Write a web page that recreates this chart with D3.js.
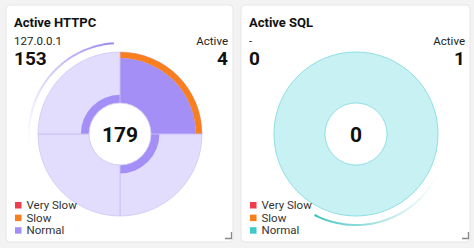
<!DOCTYPE html>
<html><head><meta charset="utf-8">
<script src="https://cdn.jsdelivr.net/npm/d3@7"></script>
<style>
html,body{margin:0;padding:0;background:#f3f3f3;}
svg{display:block;font-family:Roboto, "Noto Sans", sans-serif;}
</style></head>
<body>
<svg id="c" width="474" height="248"></svg>
<script>
// ---- data ----
const titles = ["Active HTTPC", "Active SQL"];
const hostLabels = ["127.0.0.1", "-"];
const hostValues = [153, 0];
const activeLabels = ["Active", "Active"];
const activeValues = [4, 1];
const centerValues = [179, 0];
const legendLabels = ["Very Slow", "Slow", "Normal"];
// HTTPC segments clockwise from 12 o'clock
const httpcNormal   = [8.8, 1.65, 0, 1.6];
const httpcSlow     = [1.2, 0, 0, 0];
const httpcVerySlow = [0, 0, 0, 0];
// SQL: one segment, nothing active
const sqlNormal   = [0];
const sqlSlow     = [0];
const sqlVerySlow = [0];
const radialMax = 10;

const themes = [
  {normal:"#a48ff6", bg:"#e2ddfc", line:"#cfc6f8", spin:"#9a86f2"},
  {normal:"#3fc9c8", bg:"#c8f1f4", line:"#8fdfe2", spin:"#3cc3bf"}
];
const statusColors = {verySlow:"#ee3d4c", slow:"#f97e1d"};

const svg = d3.select("#c");
const cards = [{x:6, w:227}, {x:241, w:229}];
const cardY = 5, cardH = 237;
const cy = 134, rInner = 31, rOuter = 82, rSpin = 91;
const spins = [{start:-4, end:-100}, {start:207, end:115}];

cards.forEach((c, i) => {
  const th = themes[i];
  const g = svg.append("g").attr("transform", `translate(${c.x},${cardY})`);
  g.append("rect").attr("x",0).attr("y",0).attr("width",c.w).attr("height",cardH)
    .attr("rx",4).attr("fill","#fff").attr("stroke","#e6e6e6").attr("stroke-width",1);

  g.append("text").attr("x",8).attr("y",21.5).text(titles[i])
    .attr("font-size",13).attr("font-weight",700).attr("fill","#111");
  g.append("text").attr("x",8).attr("y",39.5).text(hostLabels[i])
    .attr("font-size",11.5).attr("fill","#222");
  g.append("text").attr("x",8).attr("y",60).text(hostValues[i])
    .attr("font-size",19).attr("font-weight",700).attr("fill","#111");
  g.append("text").attr("x",c.w-5).attr("y",40).attr("text-anchor","end").text(activeLabels[i])
    .attr("font-size",11.5).attr("fill","#222");
  g.append("text").attr("x",c.w-5).attr("y",60).attr("text-anchor","end").text(activeValues[i])
    .attr("font-size",19).attr("font-weight",700).attr("fill","#111");

  // resize handle
  g.append("path").attr("d",`M${c.w-1.5},${cardH-10}V${cardH-3.5}H${c.w-8}`)
    .attr("fill","none").attr("stroke","#888").attr("stroke-width",1.3);

  const cx = c.w/2 + 0.5;
  const chart = g.append("g").attr("transform",`translate(${cx},${cy-cardY})`);

  const normal = i===0 ? httpcNormal : sqlNormal;
  const slow = i===0 ? httpcSlow : sqlSlow;
  const verySlow = i===0 ? httpcVerySlow : sqlVerySlow;
  const n = normal.length;
  const angle = d3.scaleBand().domain(d3.range(n)).range([0, 2*Math.PI]);
  const r = d3.scaleLinear().domain([0, radialMax]).range([rInner, rOuter]);
  const arc = d3.arc();

  // backgrounds
  chart.selectAll("path.bg").data(d3.range(n)).join("path").attr("class","bg")
    .attr("d", k => arc({innerRadius:rInner, outerRadius:rOuter,
      startAngle:angle(k), endAngle:angle(k)+angle.bandwidth()}))
    .attr("fill", th.bg).attr("stroke", th.line).attr("stroke-width", n>1 ? 0.8 : 1);

  const stacks = d3.range(n).map(k => ({k, parts:[
    {v:normal[k], col:th.normal}, {v:slow[k], col:statusColors.slow}, {v:verySlow[k], col:statusColors.verySlow}]}));
  stacks.forEach(s => {
    let acc = 0;
    s.parts.forEach(p => {
      if (p.v > 0) {
        chart.append("path").attr("d", arc({innerRadius:r(acc), outerRadius:r(acc+p.v),
          startAngle:angle(s.k), endAngle:angle(s.k)+angle.bandwidth()})).attr("fill", p.col);
      }
      acc += p.v;
    });
  });
  if (n>1) {
    chart.selectAll("line.sep").data(d3.range(n)).join("line").attr("class","sep")
      .attr("x1", k => rInner*Math.sin(angle(k))).attr("y1", k => -rInner*Math.cos(angle(k)))
      .attr("x2", k => rOuter*Math.sin(angle(k))).attr("y2", k => -rOuter*Math.cos(angle(k)))
      .attr("stroke", th.line).attr("stroke-width", 0.8);
  }
  chart.append("circle").attr("r", rInner).attr("fill","#fff").attr("stroke", th.line).attr("stroke-width",0.8);
  chart.append("text").attr("y", 8).attr("text-anchor","middle").text(centerValues[i])
    .attr("font-size",21).attr("font-weight",700).attr("fill","#111");

  // spinner arc with fading tail (drawn as small segments)
  const sp = spins[i];
  const steps = 40;
  for (let s = 0; s < steps; s++) {
    const a0 = sp.start + (sp.end - sp.start) * s/steps;
    const a1 = sp.start + (sp.end - sp.start) * (s+1)/steps;
    chart.append("path").attr("d", arc({innerRadius:rSpin-1, outerRadius:rSpin+1,
      startAngle: Math.min(a0,a1)*Math.PI/180, endAngle: Math.max(a0,a1)*Math.PI/180 + 0.002}))
      .attr("fill", th.spin).attr("opacity", Math.pow(1 - s/steps, 1.5));
  }

  // legend
  const lcol = [statusColors.verySlow, statusColors.slow, th.normal];
  const lg = g.selectAll("g.lg").data(legendLabels).join("g").attr("class","lg")
    .attr("transform",(d,j)=>`translate(9,${205 + j*12.6 - cardY})`);
  lg.append("rect").attr("x",0).attr("y",-3).attr("width",6.5).attr("height",6.5).attr("fill",(d,j)=>lcol[j]);
  lg.append("text").attr("x",11.5).attr("y",4.2).text(d=>d).attr("font-size",11.5).attr("fill","#333");
});
</script>
</body></html>
